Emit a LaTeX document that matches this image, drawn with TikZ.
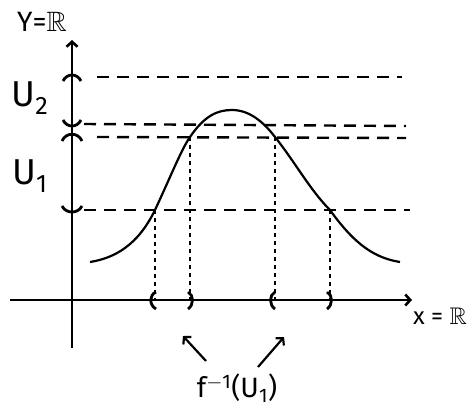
\documentclass[tikz,border=0pt]{standalone}
\usepackage{amssymb}
\usepackage{fontspec}
\setmainfont{Fira Sans}
\usetikzlibrary{arrows.meta}
\begin{document}
\begin{tikzpicture}[x=1pt,y=-1pt,
  axis/.style={line width=2.6pt,-{Straight Barb[length=5pt,width=11pt]}},
  hdash/.style={line width=2.4pt,dash pattern=on 12pt off 8pt},
  vdot/.style={line width=1.8pt,dash pattern=on 4pt off 4pt},
  brk/.style={line width=2.8pt},
  curve/.style={line width=2.2pt},
  lbl/.style={font=\fontsize{28}{30}\selectfont},
  ptr/.style={line width=2.2pt,-{Straight Barb[length=5pt,width=11pt]}}]
\useasboundingbox (0,0) rectangle (474,415);
% axes
\coordinate (yb) at (72,348);
\coordinate (yt) at (72,40);
\coordinate (xl) at (10,300);
\coordinate (xr) at (412,300);
\draw[axis] (yb) -- (yt);
\draw[axis] (xl) -- (xr);
\node[lbl] (ylab) at (42,22) {Y=$\mathbb{R}$};
\node[lbl,font=\fontsize{24}{26}\selectfont] (xlab) at (440,316) {x = $\mathbb{R}$};
\node[lbl,font=\fontsize{36}{38}\selectfont] (u2) at (30,98) {U\textsubscript{2}};
\node[lbl,font=\fontsize{36}{38}\selectfont] (u1) at (30,176) {U\textsubscript{1}};
% horizontal dashed
\coordinate (h1a) at (97,77);  \coordinate (h1b) at (402,77);
\coordinate (h2a) at (84,124); \coordinate (h2b) at (406,126);
\coordinate (h3a) at (97,137); \coordinate (h3b) at (406,138);
\coordinate (h4a) at (84,210); \coordinate (h4b) at (410,210);
\draw[hdash] (h1a) -- (h1b);
\draw[hdash] (h2a) -- (h2b);
\draw[hdash] (h3a) -- (h3b);
\draw[hdash] (h4a) -- (h4b);
% y brackets
\draw[brk] (63,81) .. controls (67,73) and (77,73) .. (81,81);
\draw[brk] (63,120) .. controls (67,128) and (77,128) .. (81,120);
\draw[brk] (62,141) .. controls (66,132) and (78,132) .. (82,141);
\draw[brk] (62,206) .. controls (66,214) and (78,214) .. (82,206);
% curve
\coordinate (c0) at (90,262);
\coordinate (p1) at (155,210);
\coordinate (p2) at (190,137);
\coordinate (pk) at (232,110);
\coordinate (p3) at (275,137);
\coordinate (p4) at (330,210);
\coordinate (c1) at (400,262);
\draw[curve] (c0) .. controls (115,258) and (138,245) .. (p1)
  .. controls (170,178) and (182,148) .. (p2)
  .. controls (205,115) and (218,110) .. (pk)
  .. controls (248,110) and (262,120) .. (p3)
  .. controls (295,162) and (310,190) .. (p4)
  .. controls (355,245) and (375,258) .. (c1);
% vertical dotted
\coordinate (v1) at (155,300); \coordinate (v2) at (190,300);
\coordinate (v3) at (275,300); \coordinate (v4) at (330,300);
\draw[vdot] (p1) -- (v1);
\draw[vdot] (p2) -- (v2);
\draw[vdot] (p3) -- (v3);
\draw[vdot] (p4) -- (v4);
% x brackets
\draw[brk] (156,292) .. controls (149,295) and (149,305) .. (156,309);
\draw[brk] (188,292) .. controls (194,295) and (194,305) .. (188,309);
\draw[brk] (275,292) .. controls (269,295) and (269,305) .. (275,309);
\draw[brk] (327,292) .. controls (333,295) and (333,305) .. (327,309);
% label and pointers
\node[lbl] (f) at (237,388) {f\textsuperscript{$-$1}(U\textsubscript{1})};
\coordinate (a1) at (206,361); \coordinate (t1) at (183,336);
\coordinate (a2) at (258,367); \coordinate (t2) at (284,337);
\draw[ptr] (a1) -- (t1);
\draw[ptr] (a2) -- (t2);
\end{tikzpicture}
\end{document}
